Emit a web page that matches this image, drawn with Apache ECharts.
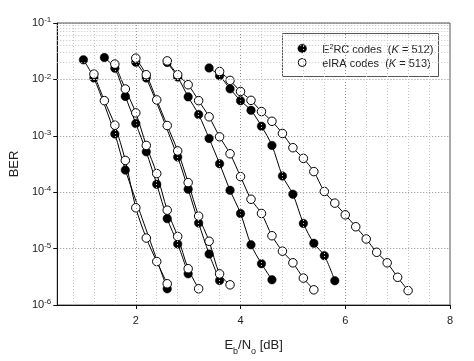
<!DOCTYPE html>
<html>
<head>
<meta charset="utf-8">
<script src="https://cdn.jsdelivr.net/npm/echarts@6/dist/echarts.min.js"></script>
<style>
  html, body { margin: 0; padding: 0; background: #fff; }
  #chart { width: 474px; height: 361px; }
</style>
</head>
<body>
<div id="chart"></div>
<script>
// ---- Data (Eb/No in dB, BER) ----
const e2rc1 = [[1.0,2.22e-2],[1.2,1.06e-2],[1.6,1.08e-3],[1.8,2.47e-4],[2.6,1.94e-6]];
const e2rc2 = [[1.4,2.44e-2],[1.6,1.58e-2],[1.8,5.0e-3],[2.0,1.65e-3],[2.2,5.2e-4],[2.4,1.38e-4],[2.6,3.4e-5],[2.8,1.21e-5],[3.0,3.57e-6]];
const e2rc3 = [[2.0,2.02e-2],[2.2,1.06e-2],[2.8,4.2e-4],[3.0,1.13e-4],[3.2,2.84e-5],[3.4,8.0e-6],[3.6,2.72e-6]];
const e2rc4 = [[2.6,2.0e-2],[2.8,1.1e-2],[3.0,4.9e-3],[3.2,2.38e-3],[3.4,8.97e-4],[3.6,3.2e-4],[3.8,1.08e-4],[4.0,4.2e-5],[4.2,1.17e-5],[4.4,5.4e-6],[4.6,2.8e-6]];
const e2rc5 = [[3.4,1.6e-2],[3.6,1.16e-2],[3.8,6.8e-3],[4.0,4.2e-3],[4.2,2.83e-3],[4.4,1.48e-3],[4.6,6.75e-4],[4.8,1.94e-4],[5.0,9.2e-5],[5.2,2.8e-5],[5.4,1.24e-5],[5.6,7.5e-6],[5.8,2.7e-6]];

const eira1 = [[1.2,1.24e-2],[1.4,4.2e-3],[1.6,1.54e-3],[1.8,3.66e-4],[2.0,5.3e-5],[2.2,1.54e-5],[2.4,5.9e-6],[2.6,2.38e-6]];
const eira2 = [[1.6,1.87e-2],[1.8,6.76e-3],[2.0,2.55e-3],[2.2,6.75e-4],[2.4,2.14e-4],[2.6,4.8e-5],[2.8,1.64e-5],[3.0,4.4e-6],[3.2,1.94e-6]];
const eira3 = [[2.0,2.38e-2],[2.2,1.21e-2],[2.4,4.33e-3],[2.6,1.52e-3],[2.8,5.4e-4],[3.0,1.48e-4],[3.2,3.77e-5],[3.4,1.35e-5],[3.6,3.56e-6],[3.8,2.28e-6]];
const eira4 = [[2.6,2.13e-2],[2.8,1.21e-2],[3.0,8.05e-3],[3.2,4.2e-3],[3.4,2.17e-3],[3.6,9.6e-4],[3.8,4.8e-4],[4.0,1.89e-4],[4.2,7.5e-5],[4.4,4.2e-5],[4.6,1.69e-5],[4.8,9.0e-6],[5.0,5.6e-6],[5.2,3.0e-6],[5.4,1.86e-6]];
const eira5 = [[3.6,1.38e-2],[3.8,9.6e-3],[4.0,6.1e-3],[4.2,4.25e-3],[4.4,2.69e-3],[4.6,1.81e-3],[4.8,1.1e-3],[5.0,6.15e-4],[5.2,3.98e-4],[5.4,2.32e-4],[5.6,1.03e-4],[5.8,6.4e-5],[6.0,3.97e-5],[6.2,2.44e-5],[6.4,1.48e-5],[6.6,8.6e-6],[6.8,5.6e-6],[7.0,3.1e-6],[7.2,1.8e-6]];

const xTicks = [2, 4, 6, 8];
const xMajorGrid = [2, 4, 6];
const xMinorGrid = [0.8, 1.2, 1.6, 2.4, 2.8, 3.2, 3.6, 4.4, 4.8, 5.2, 5.6, 6.4, 6.8, 7.2, 7.6];
const yMinorMult = [2, 3, 4, 5, 6, 7, 8, 9];
const yDecades = [-6, -5, -4, -3, -2];

const legendTexts = [
  '{t|E}{s|2}{t|RC codes  (}{i|K}{t| = 512)}',
  '{t|eIRA codes  (}{i|K}{t| = 513)}'
];

// ---- build ----
const yMinorGrid = [];
yDecades.forEach(d => yMinorMult.forEach(m => yMinorGrid.push(m * Math.pow(10, d))));

const FONT = '"Liberation Sans", Arial, sans-serif';
const filledStyle = { color: '#000', borderColor: '#000', borderWidth: 0.5 };
const openStyle = { color: '#fff', borderColor: '#000', borderWidth: 1 };
const lineCommon = {
  type: 'line', smooth: 0.3, symbol: 'circle', symbolSize: 8.5, showSymbol: true,
  lineStyle: { color: '#000', width: 1 }, emphasis: { disabled: true }, silent: true, z: 3
};
const series = [];
// grid helper series
series.push({
  type: 'line', data: [], silent: true, z: 1,
  markLine: {
    silent: true, symbol: ['none', 'none'], label: { show: false }, animation: false,
    data: [
      ...xMinorGrid.map(v => ({ xAxis: v, lineStyle: { color: '#c4c4c4', type: [1, 2], width: 1 } })),
      ...xMajorGrid.map(v => ({ xAxis: v, lineStyle: { color: '#8a8a8a', type: [1, 2], width: 1 } })),
      ...yMinorGrid.map(v => ({ yAxis: v, lineStyle: { color: '#c4c4c4', type: [1, 2], width: 1 } }))
    ]
  }
});
[e2rc1, e2rc2, e2rc3, e2rc4, e2rc5].forEach((d, i) => series.push(Object.assign({}, lineCommon, {
  name: 'E2RC codes (K = 512) #' + (i + 1), data: d, itemStyle: filledStyle
})));
[eira1, eira2, eira3, eira4, eira5].forEach((d, i) => series.push(Object.assign({}, lineCommon, {
  name: 'eIRA codes (K = 513) #' + (i + 1), data: d, z: 4, itemStyle: openStyle
})));

const legendRich = {
  t: { fontSize: 11, fill: '#222', fontFamily: FONT },
  i: { fontSize: 11, fill: '#222', fontFamily: FONT, fontStyle: 'italic' },
  s: { fontSize: 7, fill: '#222', fontFamily: FONT, verticalAlign: 'top', lineHeight: 12 }
};

const chart = echarts.init(document.getElementById('chart'), null, { renderer: 'canvas' });
chart.setOption({
  animation: false,
  backgroundColor: '#fff',
  textStyle: { fontFamily: FONT },
  grid: { left: 56, right: 24, top: 23, bottom: 55, show: true, borderColor: '#555', borderWidth: 1, containLabel: false },
  graphic: [{
    type: 'group', left: 282, top: 33, z: 10, silent: true,
    children: [
      { type: 'rect', shape: { x: 0, y: 0, width: 156, height: 43 }, style: { fill: '#fff', stroke: '#555', lineWidth: 1 } },
      { type: 'circle', shape: { cx: 19.7, cy: 15, r: 4.3 }, style: { fill: '#000', stroke: '#000', lineWidth: 0.5 } },
      { type: 'circle', shape: { cx: 19.7, cy: 29, r: 4 }, style: { fill: '#fff', stroke: '#000', lineWidth: 1 } },
      { type: 'text', x: 39.7, y: 16, style: { text: legendTexts[0], rich: legendRich, verticalAlign: 'middle', align: 'left', fontSize: 11, fontFamily: FONT, fill: '#222' } },
      { type: 'text', x: 39.7, y: 30, style: { text: legendTexts[1], rich: legendRich, verticalAlign: 'middle', align: 'left', fontSize: 11, fontFamily: FONT, fill: '#222' } }
    ]
  }],
  xAxis: {
    type: 'value', min: 0.5, max: 8,
    axisLine: { show: true, lineStyle: { color: '#111', width: 1 } },
    axisTick: { show: true, customValues: xTicks, length: 4, lineStyle: { color: '#111' } },
    axisLabel: { customValues: xTicks, fontSize: 11, color: '#222', margin: 10, fontFamily: FONT },
    splitLine: { show: false },
    name: '{n|E}{u|b}{n|/N}{u|o}{n| [dB]}',
    nameLocation: 'middle', nameGap: 32,
    nameTextStyle: {
      rich: {
        n: { fontSize: 13, color: '#222', fontFamily: FONT, lineHeight: 16 },
        u: { fontSize: 9, color: '#222', fontFamily: FONT, verticalAlign: 'bottom', lineHeight: 9, padding: [0, 0, -3, 0] }
      }
    }
  },
  yAxis: {
    type: 'log', logBase: 10, min: 1e-6, max: 1e-1, interval: 1,
    axisLine: { show: true, lineStyle: { color: '#111', width: 1 } },
    axisTick: { show: true, length: 4, lineStyle: { color: '#111' } },
    axisLabel: {
      margin: 6, fontFamily: FONT,
      formatter: v => '{b|10}{s|' + Math.round(Math.log10(v)) + '}',
      rich: {
        b: { fontSize: 11, color: '#222', fontFamily: FONT, lineHeight: 14 },
        s: { fontSize: 8, color: '#222', fontFamily: FONT, verticalAlign: 'top', lineHeight: 9 }
      }
    },
    splitLine: { show: true, lineStyle: { color: '#8a8a8a', type: [1, 2], width: 1 } },
    minorTick: { show: false },
    name: 'BER', nameLocation: 'middle', nameGap: 36,
    nameTextStyle: { fontSize: 13, color: '#222', fontFamily: FONT }
  },
  series: series
});
</script>
</body>
</html>
